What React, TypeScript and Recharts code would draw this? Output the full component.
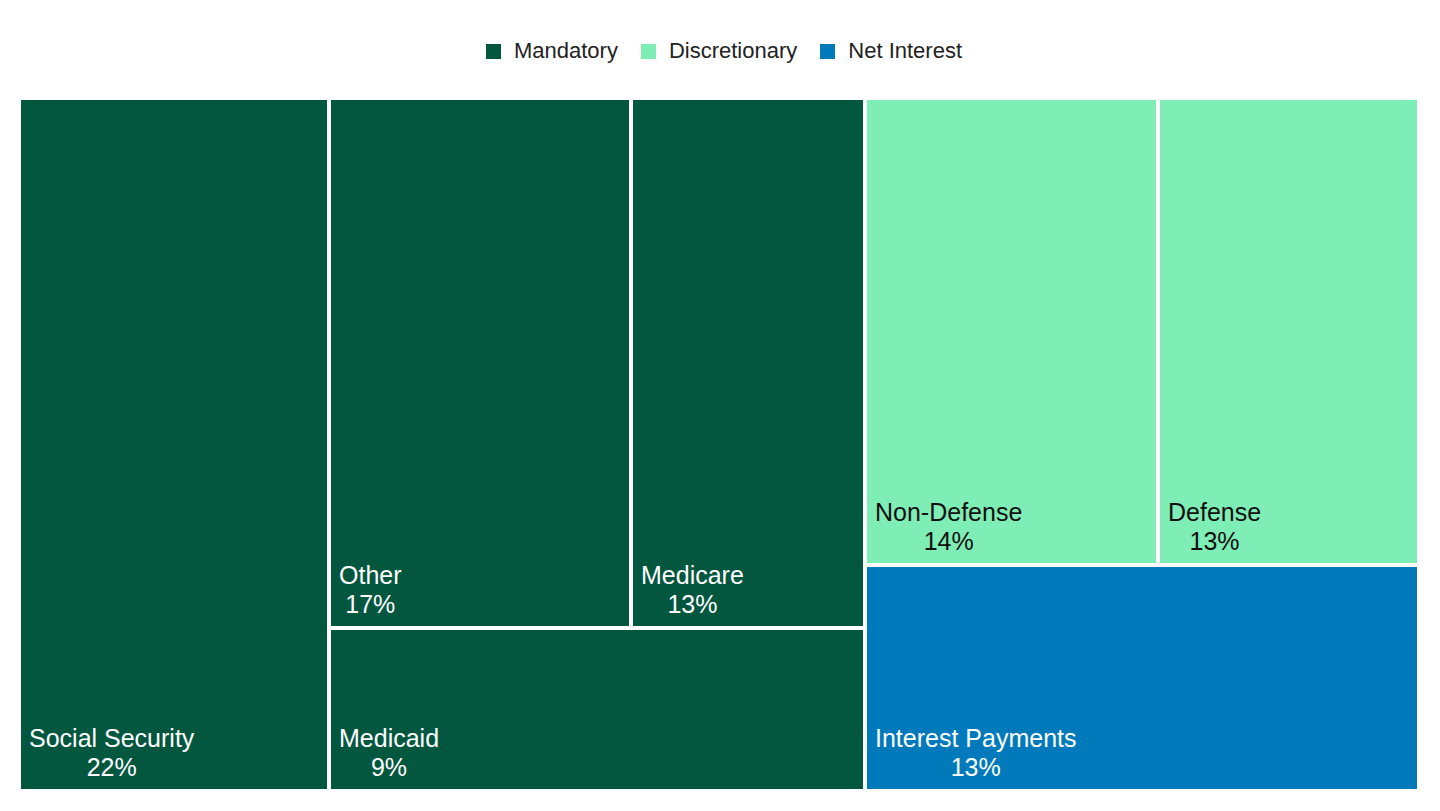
import React from "react";
import { Treemap } from "recharts";

const leafNames = [
  "Social Security",
  "Other",
  "Medicare",
  "Medicaid",
  "Non-Defense",
  "Defense",
  "Interest Payments",
];
// shares of total outlays (%); labels show them rounded
const leafShares = [22.1, 16.5, 12.8, 9.0, 14.1, 12.6, 12.9];
const leafGroups = [
  "Mandatory",
  "Mandatory",
  "Mandatory",
  "Mandatory",
  "Discretionary",
  "Discretionary",
  "Net Interest",
];

const groupNames = ["Mandatory", "Discretionary", "Net Interest"];
const groupColors = ["#03573F", "#7FEEB6", "#007ABA"];
const groupText = ["#ffffff", "#111111", "#ffffff"];

const FONT = "'Liberation Sans', Arial, Helvetica, sans-serif";

const leaf = (i: number) => ({
  name: leafNames[i],
  value: leafShares[i],
  group: leafGroups[i],
});

// nesting only steers the squarify layout into the same blocks as the source
const treeData = [
  {
    name: "Mandatory",
    children: [
      leaf(0),
      {
        name: "Mandatory rest",
        children: [{ name: "Mandatory top", children: [leaf(1), leaf(2)] }, leaf(3)],
      },
    ],
  },
  {
    name: "Discretionary and interest",
    children: [
      { name: "Discretionary", children: [leaf(4), leaf(5)] },
      { name: "Net Interest", children: [leaf(6)] },
    ],
  },
];

let ctx: CanvasRenderingContext2D | null = null;
function textWidth(text: string, font: string) {
  if (!ctx) ctx = document.createElement("canvas").getContext("2d");
  if (!ctx) return text.length * 12;
  ctx.font = font;
  return ctx.measureText(text).width;
}

function Cell(props: any) {
  const { x, y, width, height, name, value, group } = props;
  if (!group) return <g />;
  const gi = groupNames.indexOf(group);
  const bottom = y + height;
  const nameW = textWidth(name, `25px ${FONT}`);
  const tx = x + 10;
  return (
    <g>
      <rect
        x={x}
        y={y}
        width={width}
        height={height}
        fill={groupColors[gi]}
        stroke="#ffffff"
        strokeWidth={4}
      />
      <text
        x={tx}
        y={bottom - 44}
        fill={groupText[gi]}
        fontSize={25}
        fontFamily={FONT}
      >
        {name}
      </text>
      <text
        x={tx + nameW / 2}
        y={bottom - 15}
        fill={groupText[gi]}
        fontSize={25}
        fontFamily={FONT}
        textAnchor="middle"
      >
        {Math.round(value)}%
      </text>
    </g>
  );
}

export default function App() {
  return (
    <div style={{ position: "relative", width: 1424, height: 795, fontFamily: FONT }}>
      <div
        style={{
          position: "absolute",
          left: 0,
          top: 32,
          width: 1432,
          height: 22,
          display: "flex",
          justifyContent: "center",
          alignItems: "center",
          gap: 23,
          fontSize: 22,
          color: "#222222",
        }}
      >
        {groupNames.map((g, i) => (
          <div key={g} style={{ display: "flex", alignItems: "center" }}>
            <span
              style={{
                display: "inline-block",
                width: 15,
                height: 15,
                background: groupColors[i],
                marginRight: 13,
              }}
            />
            <span>{g}</span>
          </div>
        ))}
      </div>
      <div style={{ position: "absolute", left: 11, top: 90 }}>
        <Treemap
          width={1400}
          height={693}
          data={treeData}
          dataKey="value"
          nameKey="name"
          aspectRatio={1}
          isAnimationActive={false}
          content={(p: any) => <Cell {...p} />}
        />
      </div>
    </div>
  );
}
